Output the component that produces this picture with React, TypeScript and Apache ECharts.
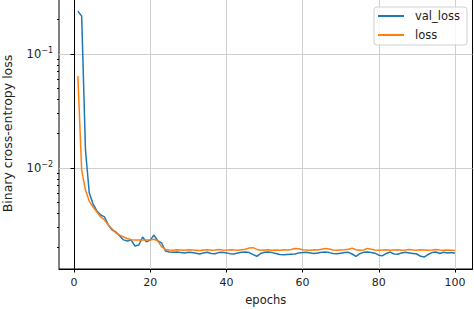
import React, { useEffect, useRef } from "react";
import * as echarts from "echarts";

const epochs: number[] = Array.from({ length: 100 }, (_, i) => i + 1);

const valLoss: number[] = [
  0.238, 0.215, 0.0144, 0.00604, 0.00483, 0.0042, 0.00387, 0.00372, 0.00316, 0.00286,
  0.00275, 0.00253, 0.00234, 0.00229, 0.00233, 0.00207, 0.00211, 0.00248, 0.00225, 0.00233,
  0.00258, 0.00229, 0.0022, 0.00187, 0.00183, 0.00182, 0.00183, 0.00181, 0.0018, 0.00182,
  0.00181, 0.00179, 0.00176, 0.0018, 0.00182, 0.00178, 0.00177, 0.00181, 0.00182, 0.0018,
  0.00177, 0.00176, 0.0018, 0.00182, 0.00183, 0.00181, 0.00174, 0.00168, 0.00178, 0.00182,
  0.00183, 0.00181, 0.00178, 0.00174, 0.00173, 0.00174, 0.00175, 0.00176, 0.0018, 0.00181,
  0.00182, 0.0018, 0.00178, 0.0018, 0.00182, 0.00183, 0.00181, 0.00178, 0.00177, 0.00179,
  0.00181, 0.00182, 0.00176, 0.00168, 0.00177, 0.00182, 0.00183, 0.00181, 0.00179, 0.00172,
  0.0017, 0.00178, 0.00183, 0.00176, 0.00175, 0.0018, 0.00182, 0.0018, 0.00178, 0.00176,
  0.00168, 0.00166, 0.00175, 0.00181, 0.00183, 0.00178, 0.00182, 0.0018, 0.00181, 0.00179,
];

const loss: number[] = [
  0.064, 0.0096, 0.0064, 0.0051, 0.00455, 0.00411, 0.00372, 0.0035, 0.00316, 0.00292,
  0.00269, 0.00258, 0.00248, 0.00241, 0.00235, 0.00233, 0.00233, 0.00233, 0.00233, 0.00233,
  0.00237, 0.00229, 0.00203, 0.00193, 0.00191, 0.0019, 0.00192, 0.00191, 0.0019, 0.00192,
  0.00191, 0.0019, 0.00189, 0.00191, 0.00192, 0.0019, 0.00191, 0.00193, 0.00191, 0.0019,
  0.00192, 0.00191, 0.0019, 0.00192, 0.00194, 0.00199, 0.002, 0.00193, 0.0019, 0.00191,
  0.00192, 0.0019, 0.00191, 0.0019, 0.00192, 0.00191, 0.00193, 0.00197, 0.00196, 0.00192,
  0.00191, 0.0019, 0.00192, 0.00191, 0.00194, 0.00197, 0.00195, 0.00191, 0.0019, 0.00191,
  0.00192, 0.00194, 0.00198, 0.00192, 0.0019, 0.00191, 0.00197, 0.00194, 0.00191, 0.0019,
  0.00191, 0.00192, 0.0019, 0.00191, 0.00192, 0.0019, 0.00191, 0.00193, 0.00191, 0.0019,
  0.00192, 0.00191, 0.0019, 0.00191, 0.00193, 0.00191, 0.0019, 0.00191, 0.0019, 0.00189,
];

const xTicks: number[] = [0, 20, 40, 60, 80, 100];
const yMajorTicks: number[] = [0.01, 0.1];
const yMinorTicks: number[] = [
  0.002, 0.003, 0.004, 0.005, 0.006, 0.007, 0.008, 0.009,
  0.02, 0.03, 0.04, 0.05, 0.06, 0.07, 0.08, 0.09, 0.2, 0.3,
];
const yTickLabels: Record<string, string> = { "0.01": "\u22122", "0.1": "\u22121" };

const FONT = "DejaVu Sans";

export default function App() {
  const ref = useRef<HTMLDivElement>(null);
  useEffect(() => {
    if (!ref.current) return;
    const chart = echarts.init(ref.current, undefined, { renderer: "svg" });
    const yCommon = {
      type: "log" as const,
      logBase: 10,
      min: 0.0013,
      max: 0.31,
      position: "left" as const,
    };
    chart.setOption({
      animation: false,
      grid: {
        left: 59,
        right: 1.5,
        top: -2,
        bottom: 40,
        outerBoundsMode: "none",
        containLabel: false,
        show: true,
        borderColor: "#000",
        borderWidth: 1,
        backgroundColor: "transparent",
      },
      legend: {
        right: 7,
        top: 7,
        orient: "vertical",
        itemWidth: 26,
        itemHeight: 2,
        itemGap: 7,
        padding: [3, 7, 4, 4],
        borderColor: "#d0d0d0",
        borderWidth: 1,
        borderRadius: 3,
        backgroundColor: "rgba(255,255,255,0.8)",
        textStyle: { fontFamily: FONT, fontSize: 11.5, color: "#222", padding: [0, 0, 0, 6] },
        data: [
          { name: "val_loss", icon: "rect" },
          { name: "loss", icon: "rect" },
        ],
      },
      xAxis: {
        type: "value",
        min: -3.95,
        max: 104.6,
        name: "epochs",
        nameLocation: "middle",
        nameGap: 25,
        nameTextStyle: { fontFamily: FONT, fontSize: 11.5, color: "#222" },
        axisLine: { show: true, onZero: false, lineStyle: { color: "#000", width: 1 } },
        axisTick: { show: true, length: 3.5, lineStyle: { color: "#000" }, customValues: xTicks },
        axisLabel: {
          fontFamily: FONT,
          fontSize: 11,
          color: "#222",
          margin: 8,
          customValues: xTicks,
        },
        splitLine: { show: true, lineStyle: { color: "#cfcfcf", width: 1 } },
      },
      yAxis: [
        {
          ...yCommon,
          name: "Binary cross-entropy loss",
          nameLocation: "middle",
          nameGap: 45,
          nameTextStyle: { fontFamily: FONT, fontSize: 12.5, color: "#222" },
          axisLine: { show: true, lineStyle: { color: "#000", width: 1 } },
          axisTick: { show: true, length: 3.5, lineStyle: { color: "#000" }, customValues: yMajorTicks },
          axisLabel: {
            customValues: yMajorTicks,
            margin: 6,
            formatter: (v: number) => {
              const key = String(Number(v.toPrecision(3)));
              return `{b|10}{s|${yTickLabels[key] ?? ""}}`;
            },
            rich: {
              b: { fontFamily: FONT, fontSize: 11.5, color: "#222" },
              s: { fontFamily: FONT, fontSize: 8, color: "#222", padding: [0, 0, 7, 0] },
            },
          },
          splitLine: { show: true, lineStyle: { color: "#cfcfcf", width: 1 } },
        },
        {
          ...yCommon,
          axisLine: { show: false },
          axisTick: { show: true, length: 2, lineStyle: { color: "#000" }, customValues: yMinorTicks },
          axisLabel: { show: false, customValues: yMinorTicks },
          splitLine: { show: false },
        },
      ],
      series: [
        {
          name: "val_loss",
          type: "line",
          yAxisIndex: 0,
          showSymbol: false,
          data: epochs.map((e, i) => [e, valLoss[i]]),
          lineStyle: { color: "#1f77b4", width: 1.5 },
          itemStyle: { color: "#1f77b4" },
        },
        {
          name: "loss",
          type: "line",
          yAxisIndex: 0,
          showSymbol: false,
          data: epochs.map((e, i) => [e, loss[i]]),
          lineStyle: { color: "#ff7f0e", width: 1.5 },
          itemStyle: { color: "#ff7f0e" },
        },
      ],
    });
    return () => chart.dispose();
  }, []);
  return (
    <div
      ref={ref}
      style={{ position: "absolute", left: 0, top: 0, width: 474, height: 309, overflow: "hidden" }}
    />
  );
}
